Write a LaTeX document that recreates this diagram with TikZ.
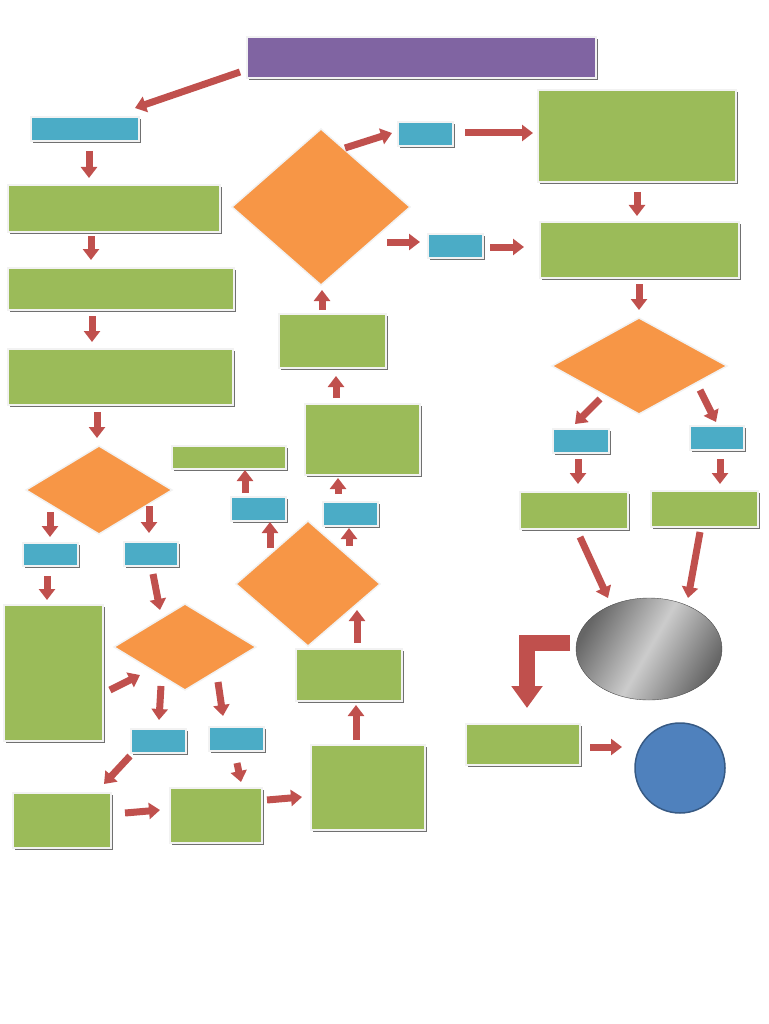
\documentclass[tikz,border=0pt]{standalone}
\usetikzlibrary{arrows.meta,shadows}
\definecolor{gr}{HTML}{9BBB59}
\definecolor{bl}{HTML}{4BACC6}
\definecolor{pu}{HTML}{8064A2}
\definecolor{orn}{HTML}{F79646}
\definecolor{rd}{HTML}{C0504D}
\definecolor{cb}{HTML}{4F81BD}
\tikzset{
 box/.style={draw=white!90!gray,line width=1.5pt,drop shadow={shadow xshift=2pt,shadow yshift=-2pt,fill=black!70,opacity=.8}},
 dia/.style={fill=orn,draw=white!90!gray,line width=1.5pt},
 ar/.style={draw=rd,line width=7pt,-{Triangle[width=16pt,length=11pt]}},
}
\newcommand{\R}[6]{\fill[box,#1] (#2,#3) rectangle (#4,#5) coordinate (#6);}
\begin{document}
\begin{tikzpicture}[x=1pt,y=-1pt]
\useasboundingbox (0,0) rectangle (768,1024);
\R{fill=pu}{247}{37}{596}{78}{t}
\R{fill=bl}{31}{117}{139}{141}{b1}
\R{fill=gr}{8}{185}{220}{232}{g1}
\R{fill=gr}{8}{268}{234}{310}{g2}
\R{fill=gr}{8}{349}{233}{405}{g3}
\R{fill=bl}{23}{543}{78}{566}{b2}
\R{fill=bl}{124}{542}{178}{566}{b3}
\R{fill=gr}{4}{605}{103}{741}{g4}
\R{fill=bl}{131}{729}{186}{753}{b4}
\R{fill=bl}{209}{727}{264}{751}{b5}
\R{fill=gr}{13}{793}{111}{848}{g5}
\R{fill=gr}{170}{788}{262}{843}{g6}
\R{fill=gr}{311}{745}{425}{830}{g7}
\R{fill=gr}{296}{649}{402}{701}{g8}
\R{fill=bl}{231}{497}{286}{521}{b6}
\R{fill=bl}{323}{502}{378}{526}{b7}
\R{fill=gr}{172}{446}{286}{469}{g9}
\R{fill=gr}{305}{404}{420}{475}{g10}
\R{fill=gr}{279}{314}{386}{368}{g11}
\R{fill=bl}{398}{122}{453}{146}{b8}
\R{fill=bl}{428}{234}{483}{258}{b9}
\R{fill=gr}{538}{90}{736}{182}{g12}
\R{fill=gr}{540}{222}{739}{278}{g13}
\R{fill=bl}{553}{429}{609}{453}{b10}
\R{fill=bl}{690}{426}{744}{450}{b11}
\R{fill=gr}{520}{492}{628}{529}{g14}
\R{fill=gr}{651}{491}{758}{527}{g15}
\R{fill=gr}{466}{724}{580}{765}{g16}
\fill[dia] (26,490)--(99,446)--(172,490)--(99,534)--cycle;
\fill[dia] (114,647)--(185,604)--(256,647)--(185,690)--cycle;
\fill[dia] (236,584)--(308,521)--(380,584)--(308,646)--cycle;
\fill[dia] (232,207)--(321,129)--(410,207)--(321,285)--cycle;
\fill[dia] (552,366)--(639,318)--(727,366)--(639,414)--cycle;
\shade[left color=gray!80!black,right color=gray!80!black,middle color=gray!40,shading angle=60,draw=gray!60!black] (649,649) ellipse (73 and 51);
\fill[cb,draw=cb!70!black,line width=1.5pt] (680,768) circle (45);
\foreach \a/\b/\c/\d in {240/72/135/108, 89/151/89/178, 91/236/91/260, 92/316/92/342, 97/412/97/438,
 50/512/50/537, 149/506/149/533, 47/576/47/600, 153/574/160/610, 110/690/140/675, 161/686/159/720,
 218/682/223/716, 130/756/104/784, 237/763/241/782, 125/813/160/810, 267/800/302/797, 356/740/356/705,
 357/643/357/610, 349/546/349/528, 270/548/270/522, 245/493/245/470, 338/494/338/478, 336/398/336/376,
 322/310/322/290, 345/148/392/133, 465/133/533/133, 387/242/420/242, 490/247/524/247, 637/192/637/216,
 639/284/639/310, 600/399/575/424, 700/390/716/422, 578/459/578/484, 720/459/720/484, 580/537/608/598,
 700/532/688/598, 590/747/622/747}
 \draw[ar] (\a,\b)--(\c,\d);
\draw[draw=rd,line width=16pt,-{Triangle[width=30pt,length=22pt]}] (570,643)--(527,643)--(527,708);
\end{tikzpicture}
\end{document}
